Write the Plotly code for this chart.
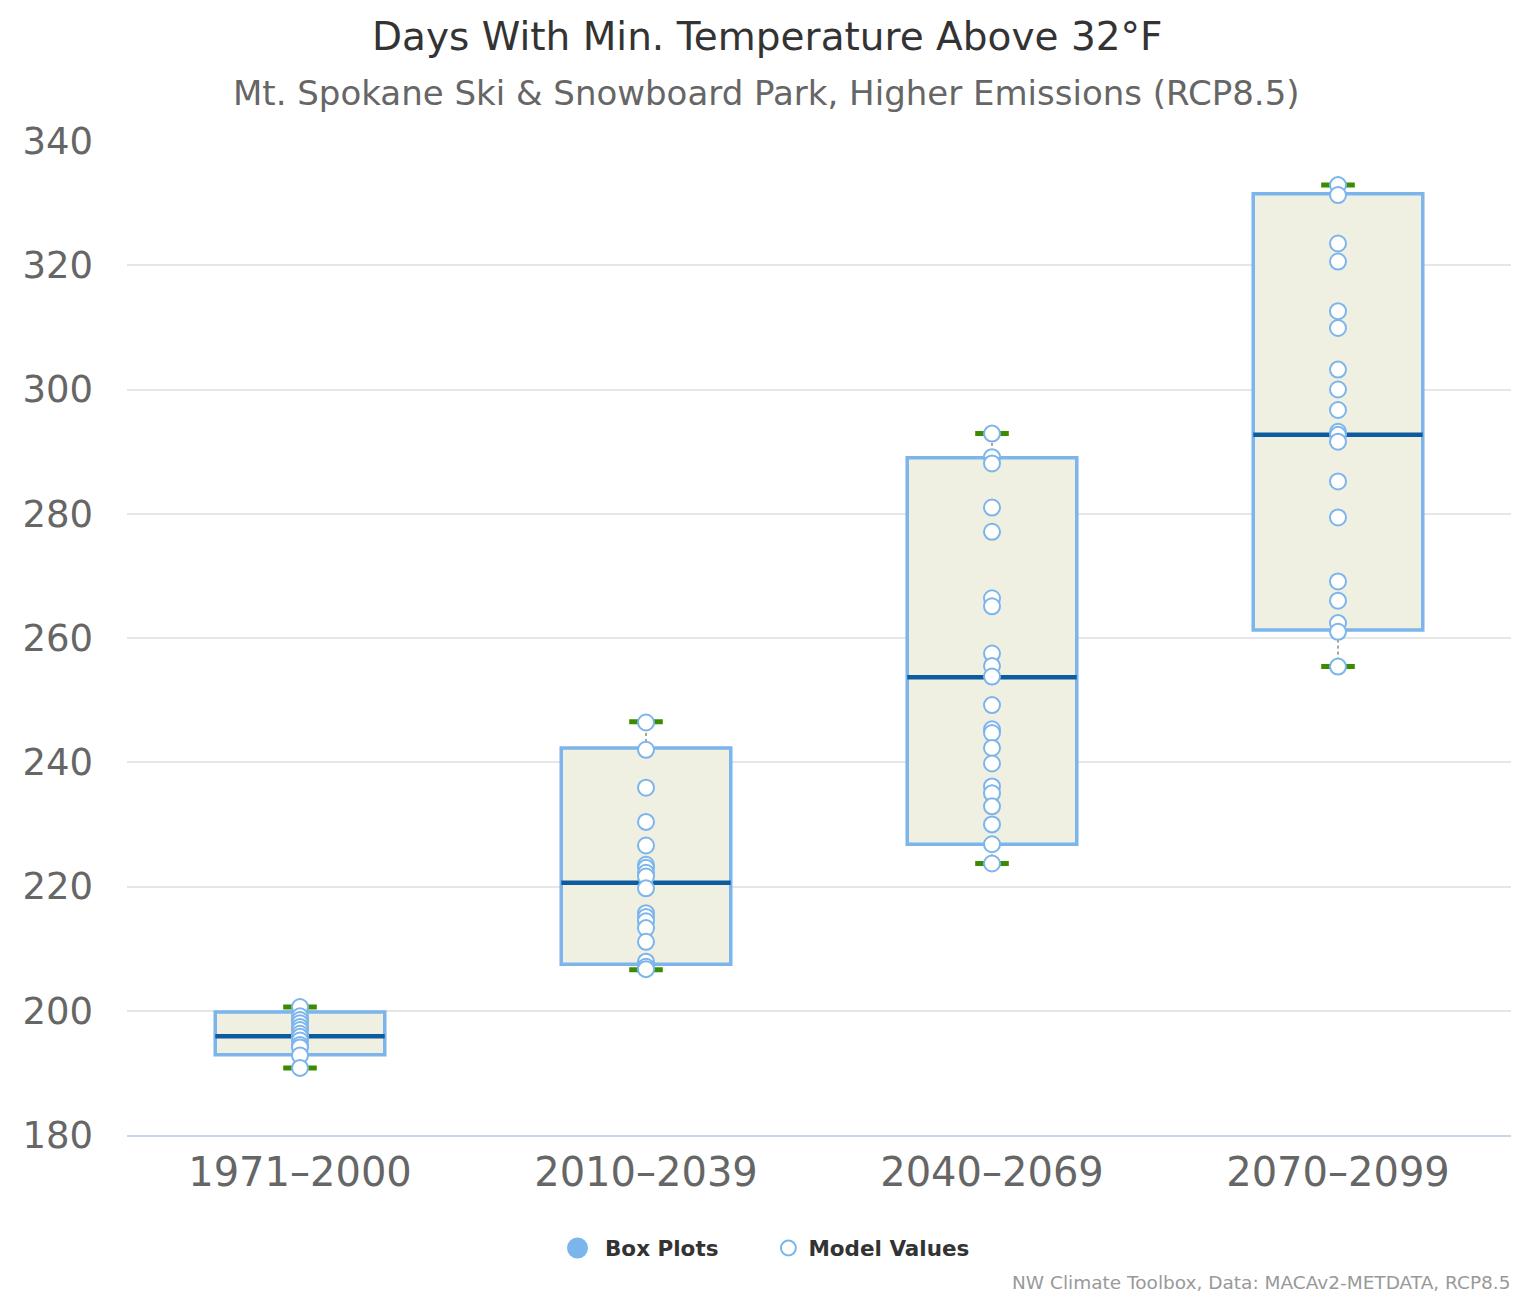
import plotly.graph_objects as go

periods = ["1971–2000", "2010–2039", "2040–2069", "2070–2099"]

# Box statistics
q1 = [192.9, 207.5, 226.8, 261.3]
median = [195.9, 220.6, 253.7, 292.7]
q3 = [199.8, 242.3, 289.0, 331.5]
whisker_low = [190.8, 206.6, 223.7, 255.4]
whisker_high = [200.6, 246.5, 292.9, 332.9]

# Individual model values
model_values = {
    "1971–2000": [200.6, 199.1, 198.5, 198.0, 197.4, 196.9, 196.3, 195.8, 195.2,
                  194.5, 194.1, 192.8, 190.8],
    "2010–2039": [246.4, 242.0, 235.9, 230.4, 226.6, 223.5, 223.0, 222.2, 221.6,
                  219.7, 215.7, 215.1, 214.4, 213.3, 211.1, 207.9, 207.1, 206.7],
    "2040–2069": [292.9, 289.1, 288.1, 281.0, 277.1, 266.4, 265.1, 257.5, 255.5,
                  253.8, 249.2, 245.3, 244.7, 242.3, 239.8, 236.1, 235.0, 232.9,
                  230.0, 226.8, 223.7],
    "2070–2099": [332.9, 331.3, 323.5, 320.6, 312.6, 309.9, 303.2, 300.0, 296.7,
                  293.2, 292.7, 291.6, 285.2, 279.4, 269.1, 266.0, 262.4, 261.0, 255.4],
}

title = "Days With Min. Temperature Above 32°F"
subtitle = "Mt. Spokane Ski & Snowboard Park, Higher Emissions (RCP8.5)"
credits = "NW Climate Toolbox, Data: MACAv2-METDATA, RCP8.5"
y_ticks = [180, 200, 220, 240, 260, 280, 300, 320, 340]

BOX_LINE = "#7cb5ec"
BOX_FILL = "#efefe2"
MEDIAN = "#0d5ca0"
WHISKER = "#3b8c00"
FONT = "DejaVu Sans"

fig = go.Figure()

# Boxes (no whiskers: fences equal to quartiles)
fig.add_trace(go.Box(
    x=periods, q1=q1, median=median, q3=q3,
    lowerfence=q1, upperfence=q3,
    fillcolor=BOX_FILL, line=dict(color=BOX_LINE, width=3.5),
    width=0.49, whiskerwidth=0, boxpoints=False,
    showlegend=False, hoverinfo="skip",
))

# Dotted stems between box and whisker caps
for i, p in enumerate(periods):
    for a, b in ((q3[i], whisker_high[i]), (whisker_low[i], q1[i])):
        fig.add_trace(go.Scatter(
            x=[p, p], y=[a, b], mode="lines",
            line=dict(color="#6b3a1e", width=1, dash="dot"),
            showlegend=False, hoverinfo="skip",
        ))

# Whisker caps
fig.add_trace(go.Scatter(
    x=periods + periods, y=whisker_low + whisker_high, mode="markers",
    marker=dict(symbol="line-ew", size=24, line=dict(color=WHISKER, width=5)),
    showlegend=False, hoverinfo="skip",
))

# Median lines
fig.add_trace(go.Scatter(
    x=periods, y=median, mode="markers",
    marker=dict(symbol="line-ew", size=121, line=dict(color=MEDIAN, width=4.5)),
    showlegend=False, hoverinfo="skip",
))

# Model values
xs, ys = [], []
for p in periods:
    for v in model_values[p]:
        xs.append(p)
        ys.append(v)
fig.add_trace(go.Scatter(
    x=xs, y=ys, mode="markers",
    marker=dict(symbol="circle", size=16, color="white",
                line=dict(color=BOX_LINE, width=2)),
    showlegend=False, hoverinfo="skip",
))

NB = "\u00a0"
# Legend entries
fig.add_trace(go.Scatter(
    x=[None], y=[None], mode="markers", name=NB + "Box Plots" + NB * 6,
    marker=dict(symbol="circle", size=23, color=BOX_LINE,
                line=dict(color=BOX_LINE, width=5)),
))
fig.add_trace(go.Scatter(
    x=[None], y=[None], mode="markers", name="Model Values",
    marker=dict(symbol="circle", size=15, color="white",
                line=dict(color=BOX_LINE, width=2)),
))

plot_left, plot_right = 127, 1511
plot_top, plot_bottom = 141, 1135
ph = plot_bottom - plot_top
pw = plot_right - plot_left

def py(pix):
    return (plot_bottom - pix) / ph

def px(pix):
    return (pix - plot_left) / pw

fig.update_layout(
    width=1532, height=1300,
    margin=dict(l=plot_left, r=1532 - plot_right, t=plot_top, b=1300 - plot_bottom,
                autoexpand=False),
    paper_bgcolor="white", plot_bgcolor="white",
    font=dict(family=FONT, color="#666666"),
    showlegend=True,
    legend=dict(
        orientation="h", x=px(766), xanchor="center", y=py(1248), yanchor="middle",
        font=dict(family=FONT, size=21.5, color="#333333", weight="bold"),
        itemsizing="trace", traceorder="normal", itemwidth=30,
        bgcolor="rgba(0,0,0,0)",
    ),
    xaxis=dict(
        type="category", categoryorder="array", categoryarray=periods,
        range=[-0.5, 3.5], showgrid=False, zeroline=False,
        showline=True, linecolor="#ccd6eb", linewidth=2,
        ticks="", tickfont=dict(family=FONT, size=40, color="#666666"),
        ticklabelstandoff=1, fixedrange=True,
    ),
    yaxis=dict(
        range=[180, 340], tickvals=y_ticks, showgrid=True,
        gridcolor="#e6e6e6", gridwidth=1.5, zeroline=False, showline=False,
        ticks="", tickfont=dict(family=FONT, size=37, color="#666666"),
        ticklabelstandoff=33, fixedrange=True,
    ),
    annotations=[
        dict(text=title, xref="paper", yref="paper", x=px(767), y=py(37),
             xanchor="center", yanchor="middle", showarrow=False,
             font=dict(family=FONT, size=39, color="#333333")),
        dict(text=subtitle, xref="paper", yref="paper", x=px(766), y=py(93),
             xanchor="center", yanchor="middle", showarrow=False,
             font=dict(family=FONT, size=34, color="#666666")),
        dict(text=credits, xref="paper", yref="paper", x=px(1512),
             y=py(1282), xanchor="right", yanchor="middle", showarrow=False,
             font=dict(family=FONT, size=18.5, color="#999999")),
    ],
)

fig.write_html("out.html")
